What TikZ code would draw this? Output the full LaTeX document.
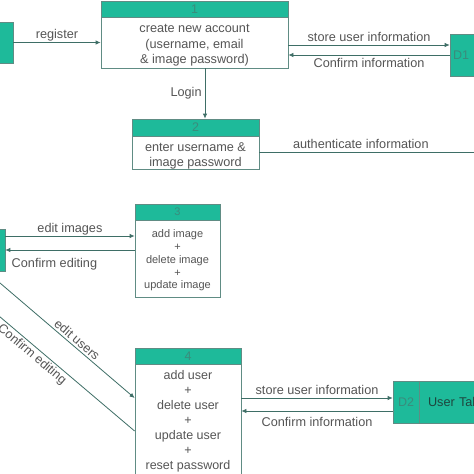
\documentclass[tikz,border=0pt]{standalone}
\usepackage{fontspec}
\setmainfont{Liberation Sans}
\usetikzlibrary{arrows.meta}
\definecolor{teal1}{RGB}{30,186,154}
\definecolor{bord}{RGB}{96,140,132}
\definecolor{linec}{RGB}{62,110,102}
\definecolor{txt}{RGB}{85,85,85}
\definecolor{hdrtxt}{RGB}{58,140,124}
\definecolor{darktxt}{RGB}{30,70,62}
\tikzset{
  hdr/.style={draw=bord, fill=teal1, line width=0.8pt, inner sep=0pt, text=hdrtxt, font=\fontsize{12.5}{14}\selectfont},
  body/.style={draw=bord, fill=white, line width=0.8pt, inner sep=0pt},
  btext/.style={text=txt, align=center, inner sep=0pt},
  ent/.style={draw=bord, fill=teal1, line width=0.6pt, inner sep=0pt},
  arr/.style={draw=linec, line width=0.8pt, -{Latex[length=5pt,width=4.5pt]}},
  ln/.style={draw=linec, line width=0.8pt},
  lbl/.style={text=txt, font=\fontsize{12.7}{15}\selectfont, inner sep=0pt},
}
\begin{document}
\begin{tikzpicture}[x=1pt,y=-1pt]
\useasboundingbox (0,0) rectangle (474,474);
\clip (0,0) rectangle (474,474);
\fill[white] (0,0) rectangle (474,474);
% external entities and stores
\node[ent, minimum width=23pt, minimum height=41pt] (E1) at (1.5,42.5) {};
\node[ent, minimum width=35pt, minimum height=42pt] (E2) at (-12.5,250) {};
\node[ent, minimum width=50pt, minimum height=42pt, text=hdrtxt, text width=44pt, align=left, font=\fontsize{12.5}{14}\selectfont] (D1) at (475,55) {D1};
\node[ent, minimum width=26pt, minimum height=42pt, text=hdrtxt, font=\fontsize{12.5}{14}\selectfont] (D2) at (406,402) {D2};
\node[ent, minimum width=90pt, minimum height=42pt, text=darktxt, text width=84pt, align=left, font=\fontsize{12.7}{14}\selectfont] (D2n) at (464,402) {\hspace*{6pt}User Table};
% process 1
\node[hdr, minimum width=187pt, minimum height=16pt] (p1h) at (194.5,9) {1};
\node[body, minimum width=187pt, minimum height=51pt] (p1) at (194.5,42.5) {};
\node[btext, font=\fontsize{12.7}{15.5}\selectfont] (p1t) at (194.5,45.5) {create new account\\(username, email\\\& image password)};
% process 2
\node[hdr, minimum width=127pt, minimum height=17pt] (p2h) at (195.5,127.5) {2};
\node[body, minimum width=127pt, minimum height=33pt] (p2) at (195.5,152.5) {};
\node[btext, font=\fontsize{12.7}{15}\selectfont] (p2t) at (195.5,155.5) {enter username \&\\image password};
% process 3
\node[hdr, minimum width=85pt, minimum height=16pt, font=\fontsize{11}{13}\selectfont] (p3h) at (177.5,212) {3};
\node[body, minimum width=85pt, minimum height=77pt] (p3) at (177.5,258.5) {};
\node[btext, font=\fontsize{11}{12.8}\selectfont] (p3t) at (177.5,260.5) {add image\\+\\delete image\\+\\update image};
% process 4
\node[hdr, minimum width=106pt, minimum height=16pt] (p4h) at (188,356) {4};
\node[body, minimum width=106pt, minimum height=112pt] (p4) at (188,420) {};
\node[btext, font=\fontsize{12.5}{15}\selectfont] (p4t) at (188,421) {add user\\+\\delete user\\+\\update user\\+\\reset password};
% free ends
\coordinate (authend) at (490,152.5);
\coordinate (euStart) at (0,283);
\coordinate (ceEnd) at (-14,305);
% connectors
\draw[arr] (E1.east) -- (p1.west) node[lbl, midway, above=1pt] {register};
\draw[arr] ([yshift=-2.5pt]p1.east) -- ([yshift=-2.5pt]p1.east -| D1.west) node[lbl, midway, above=3pt] {store user information};
\draw[arr] (D1.west) -- (D1.west -| p1.east) node[lbl, midway, below=3pt] {Confirm information};
\draw[arr] ([xshift=10.5pt]p1.south) -- ([xshift=10.5pt]p1.south |- p2h.north) node[lbl, midway, left=3pt] {Login};
\draw[ln] (p2.east) -- (authend) node[lbl, pos=0.44, above=3pt] {authenticate information};
\draw[arr] ([yshift=14pt]E2.east) -- ([yshift=14pt]E2.east -| p3.west) node[lbl, midway, above=0pt] {edit images};
\draw[arr] (p3.west |- E2.east) -- (E2.east) node[lbl, pos=0.62, below=8pt] {Confirm editing};
\draw[arr] (euStart) -- ([yshift=22pt]p4.west) node[lbl, pos=0.54, above=2pt, sloped] {edit users};
\draw[arr] ([yshift=-11pt]p4.west) -- (ceEnd) node[lbl, pos=0.655, below=2pt, sloped] {Confirm editing};
\draw[arr] ([yshift=22pt]p4.east) -- ([yshift=22pt]p4.east -| D2.west) node[lbl, midway, above=3pt] {store user information};
\draw[arr] ([yshift=-9pt]D2.west) -- ([yshift=-9pt]D2.west -| p4.east) node[lbl, midway, below=6pt] {Confirm information};
\end{tikzpicture}
\end{document}
